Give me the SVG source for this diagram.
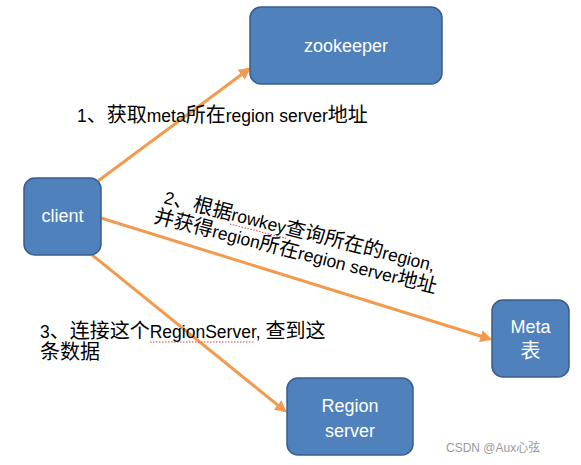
<svg xmlns="http://www.w3.org/2000/svg" width="581" height="465" viewBox="0 0 581 465">
<style>
.node rect{fill:#4F81BD;stroke:#385D8A;stroke-width:1.5}
.node text{fill:#fff;font-family:"Liberation Sans","Noto Sans CJK SC",sans-serif;font-size:18px;text-anchor:middle}
.lbl{fill:#000;font-family:"Liberation Sans","Noto Sans CJK SC",sans-serif;font-size:20px}
.l{font-size:17.5px}
.edge{stroke:#F29A4E;stroke-width:3;fill:none;marker-end:url(#ah)}
.spell{stroke:#D04040;stroke-width:1;stroke-dasharray:1.5 1.5;fill:none}
</style>
<defs>
<marker id="ah" viewBox="0 0 10 10" refX="8" refY="5" markerWidth="4" markerHeight="4" orient="auto" markerUnits="strokeWidth">
<path d="M0,0 L10,5 L0,10 z" fill="#F29A4E"/>
</marker>
</defs>
<rect width="581" height="465" fill="#fff"/>
<g id="connectors">
<line class="edge" x1="98" y1="181" x2="249" y2="69"/>
<line class="edge" x1="101" y1="218" x2="490" y2="339"/>
<line class="edge" x1="86" y1="250" x2="285" y2="411"/>
</g>
<g id="zookeeper" class="node">
<rect x="250" y="7" width="192" height="77" rx="11"/>
<text x="346" y="52">zookeeper</text>
</g>
<g id="client" class="node">
<rect x="24" y="178" width="77" height="77" rx="11"/>
<text x="62.5" y="222">client</text>
</g>
<g id="meta" class="node">
<rect x="492" y="300" width="77" height="77" rx="11"/>
<text x="530.5" y="333">Meta</text>
<text x="530.5" y="358" style="font-size:20px">表</text>
</g>
<g id="regionserver" class="node">
<rect x="287" y="378" width="126" height="77" rx="11"/>
<text x="350" y="412">Region</text>
<text x="350" y="437">server</text>
</g>
<text class="lbl" x="77" y="122"><tspan class="l">1</tspan>、获取<tspan class="l">meta</tspan>所在<tspan class="l">region server</tspan>地址</text>
<g transform="translate(163,203) rotate(14.2)">
<text class="lbl" x="0" y="0"><tspan class="l">2</tspan>、根据<tspan class="l">rowkey</tspan>查询所在的<tspan class="l">region,</tspan></text>
<line class="spell" x1="70" y1="4" x2="128" y2="4"/>
<text class="lbl" x="-5" y="21">并获得<tspan class="l">region</tspan>所在<tspan class="l">region server</tspan>地址</text>
</g>
<text class="lbl" x="40" y="338"><tspan class="l">3</tspan>、连接这个<tspan class="l">RegionServer, </tspan>查到这</text>
<line class="spell" x1="150" y1="342" x2="255" y2="342"/>
<text class="lbl" x="40" y="359">条数据</text>
<text x="446" y="452" fill="#999" font-family="Liberation Sans,'Noto Sans CJK SC',sans-serif" font-size="12">CSDN @Aux心弦</text>
</svg>
